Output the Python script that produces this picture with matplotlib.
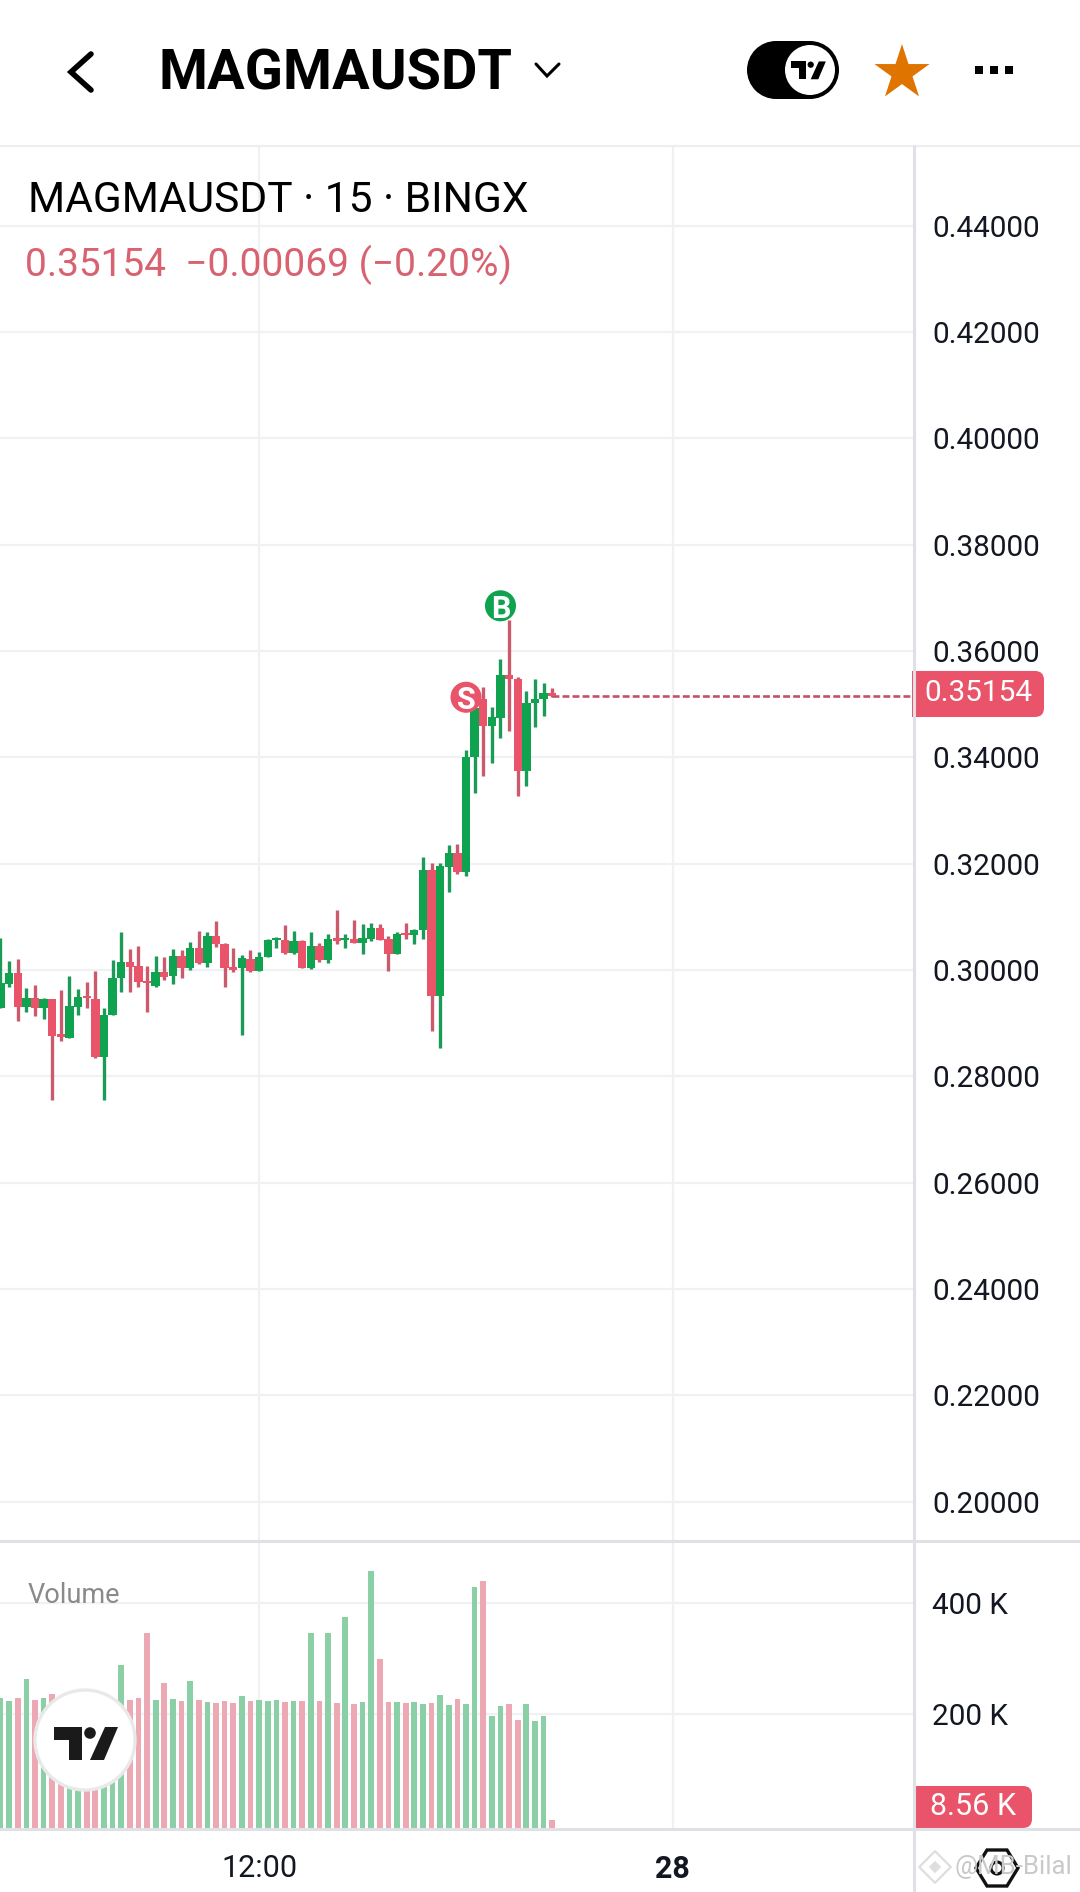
"""MAGMAUSDT 15m candles with volume pane, TradingView mobile layout"""
import numpy as np
import matplotlib
matplotlib.use("Agg")
import matplotlib.pyplot as plt
from matplotlib.patches import Circle, FancyBboxPatch, Polygon, Rectangle

plt.rcParams["font.family"] = ["Roboto", "DejaVu Sans"]

### data ###
opens = [0.29289, 0.29736, 0.29937, 0.29308, 0.29465, 0.29289, 0.29446, 0.28792, 0.28723, 0.29308,
         0.29509, 0.29453, 0.28365, 0.29163, 0.29843, 0.30145, 0.30069, 0.29786, 0.29704, 0.29956,
         0.29880, 0.30258, 0.30031, 0.30409, 0.30126, 0.30635, 0.30484, 0.30050, 0.30031, 0.30214,
         0.29987, 0.30239, 0.30560, 0.30566, 0.30314, 0.30547, 0.30044, 0.30447, 0.30189, 0.30598,
         0.30560, 0.30579, 0.30503, 0.30579, 0.30786, 0.30579, 0.30296, 0.30692, 0.30654, 0.30755,
         0.31887, 0.29503, 0.31943, 0.32208, 0.31849, 0.34000, 0.35091, 0.34596, 0.34746, 0.35542,
         0.35473, 0.33749, 0.35028, 0.35091, 0.35216]
highs = [0.30598, 0.30170, 0.30201, 0.29654, 0.29711, 0.29465, 0.29453, 0.29616, 0.29880, 0.29635,
         0.29767, 0.29975, 0.29277, 0.30182, 0.30711, 0.30390, 0.30447, 0.30069, 0.30258, 0.30239,
         0.30390, 0.30371, 0.30522, 0.30730, 0.30711, 0.30918, 0.30503, 0.30409, 0.30277, 0.30371,
         0.30333, 0.30579, 0.30629, 0.30843, 0.30730, 0.30560, 0.30711, 0.30503, 0.30673, 0.31126,
         0.30673, 0.30937, 0.30862, 0.30881, 0.30862, 0.30635, 0.30711, 0.30881, 0.30774, 0.32132,
         0.32019, 0.32019, 0.32358, 0.32377, 0.34138, 0.34922, 0.35317, 0.34941, 0.35843, 0.36583,
         0.35505, 0.35241, 0.35467, 0.35392, 0.35298]
lows = [0.29289, 0.29673, 0.29044, 0.29214, 0.29138, 0.29082, 0.27559, 0.28667, 0.28723, 0.29157,
        0.29289, 0.28352, 0.27559, 0.29163, 0.29591, 0.29591, 0.29673, 0.29214, 0.29673, 0.29805,
        0.29730, 0.29843, 0.29994, 0.30107, 0.30050, 0.30428, 0.29673, 0.29956, 0.28786, 0.29956,
        0.29987, 0.30239, 0.30421, 0.30296, 0.30296, 0.30044, 0.30013, 0.30157, 0.30126, 0.30484,
        0.30409, 0.30503, 0.30296, 0.30541, 0.30560, 0.29987, 0.30296, 0.30579, 0.30484, 0.30579,
        0.28855, 0.28534, 0.31472, 0.31811, 0.31774, 0.33323, 0.33655, 0.33887, 0.34370, 0.34495,
        0.33279, 0.33467, 0.34577, 0.34784, 0.35129]
closes = [0.29748, 0.29937, 0.29308, 0.29465, 0.29289, 0.29453, 0.28761, 0.28742, 0.29314, 0.29484,
          0.29465, 0.28365, 0.29163, 0.29843, 0.30145, 0.30063, 0.29767, 0.29748, 0.29956, 0.29874,
          0.30258, 0.30031, 0.30409, 0.30126, 0.30635, 0.30484, 0.30031, 0.30000, 0.30220, 0.29981,
          0.30239, 0.30560, 0.30598, 0.30314, 0.30541, 0.30044, 0.30447, 0.30182, 0.30579, 0.30541,
          0.30598, 0.30503, 0.30598, 0.30786, 0.30560, 0.30296, 0.30673, 0.30654, 0.30749, 0.31887,
          0.29503, 0.31962, 0.32208, 0.31849, 0.34000, 0.34922, 0.34596, 0.34752, 0.35542, 0.35473,
          0.33749, 0.35028, 0.35091, 0.35216, 0.35154]
volumes = [229, 223.5, 229, 263, 225, 229, 236, 232.5, 225, 225,
           225, 225, 225, 225, 288.5, 225, 229, 346, 225, 255,
           227, 223.5, 260, 225, 222, 220, 223.5, 220, 232.5, 223.5,
           225, 223.5, 225, 222, 223.5, 223.5, 346, 223.5, 346, 220,
           375, 218, 222, 457, 299, 222, 222, 220, 222, 218,
           220, 234, 216, 227, 218, 429.5, 440, 196, 214, 218,
           189, 218, 187, 196, 8.56]
price_ticks = [0.20, 0.22, 0.24, 0.26, 0.28, 0.30, 0.32, 0.34, 0.36, 0.38, 0.40, 0.42, 0.44]
volume_ticks = [200, 400]
time_ticks = [30, 78]
time_labels = ["12:00", "28"]
sell_bar, sell_price = 54, 0.3513
buy_bar, buy_price = 58, 0.3685
last_price = 0.35154

GREEN = "#0fa34f"
RED = "#e9546a"
GREEN_WICK = "#1b9a58"
RED_WICK = "#cb5a6c"
GRID = "#f0f1f3"
LINE = "#dfe1e6"
TEXT = "#131722"
PX_W, PX_H = 1080, 1892

fig = plt.figure(figsize=(PX_W / 100, PX_H / 100), dpi=100, facecolor="white")

def pane(top, bottom, right=914):
    return fig.add_axes([0, 1 - bottom / PX_H, right / PX_W, (bottom - top) / PX_H])

x = np.arange(len(closes))
xlim = (-0.058, 105.97)

### price pane ###
ax = pane(147, 1541)
ax.set_xlim(xlim)
ax.set_ylim(0.19261, 0.45479)
ax.set_axisbelow(True)
ax.grid(True, color=GRID, lw=1.6)
ax.set_xticks(time_ticks)
ax.set_yticks(price_ticks)
ax.set_yticklabels([f"{p:.5f}" for p in price_ticks])
ax.yaxis.tick_right()
ax.tick_params(axis="y", length=0, pad=13, labelsize=21.4, labelcolor=TEXT)
ax.tick_params(axis="x", length=0, labelbottom=False)
for s in ax.spines.values():
    s.set_visible(False)

up = np.array(closes) >= np.array(opens)
ax.vlines(x, lows, highs, colors=[GREEN_WICK if u else RED_WICK for u in up], lw=2.4, zorder=2)
body_bottom = np.minimum(opens, closes)
body_height = np.abs(np.array(closes) - np.array(opens))
ax.bar(x, body_height, bottom=body_bottom, width=0.97, color=[GREEN if u else RED for u in up], zorder=3)

ax.hlines(last_price, x[-1], xlim[1], colors="#c2526a", lw=1.9, linestyles=(0, (2.6, 1.2)), zorder=2)

ax.scatter([sell_bar], [sell_price], s=500, color=RED, edgecolors="none", zorder=5)
ax.text(sell_bar, sell_price, "S", color="white", fontsize=22, fontweight="bold",
        ha="center", va="center_baseline", zorder=6)
ax.scatter([buy_bar], [buy_price], s=500, color=GREEN, edgecolors="none", zorder=5)
ax.text(buy_bar, buy_price, "B", color="white", fontsize=22, fontweight="bold",
        ha="center", va="center_baseline", zorder=6)

### volume pane ###
vax = pane(1541, 1829)
vax.set_xlim(xlim)
vax.set_ylim(-7.76, 511.8)
vax.set_axisbelow(True)
vax.grid(True, color=GRID, lw=1.6)
vax.set_xticks(time_ticks)
vax.set_xticklabels(time_labels)
vax.get_xticklabels()[1].set_fontweight("bold")
vax.set_yticks(volume_ticks)
vax.set_yticklabels([f"{v} K" for v in volume_ticks])
vax.yaxis.tick_right()
vax.tick_params(axis="y", length=0, pad=13, labelsize=21.4, labelcolor=TEXT)
vax.tick_params(axis="x", length=0, pad=18, labelsize=22, labelcolor=TEXT)
for s in vax.spines.values():
    s.set_visible(False)
vax.bar(x, np.array(volumes) + 7.76, bottom=-7.76, width=0.66,
        color=["#8bcfa6" if u else "#eca8b3" for u in up], zorder=2)
vax.text(0.0306, 0.81, "Volume", transform=vax.transAxes, color="#8a8a8a", fontsize=19.5, va="center")

### phone chrome, in pixels ###
ui = fig.add_axes([0, 0, 1, 1], zorder=10)
ui.set_xlim(0, PX_W)
ui.set_ylim(PX_H, 0)
ui.axis("off")
ui.patch.set_alpha(0)

def tv_logo(cx, cy, k, color):
    # outline points follow the logo shape, k is the width scale
    seven = [(-31, -14), (-3, -14), (-3, 19), (-16, 19), (-16, -1), (-31, -1)]
    slash = [(20, -14), (33, -14), (19, 19), (5, 19)]
    ui.add_patch(Polygon([(cx + a * k, cy + b * k) for a, b in seven], fc=color, ec="none"))
    ui.add_patch(Polygon([(cx + a * k, cy + b * k) for a, b in slash], fc=color, ec="none"))
    ui.add_patch(Circle((cx + 5 * k, cy - 8 * k), 5.8 * k, fc=color, ec="none"))

def axis_tag(left, right, top, bottom, label, fontsize=21.4):
    # rounded on the right only, the left side sits on the axis line
    ui.add_patch(FancyBboxPatch((left, top), right - left, bottom - top,
                                boxstyle="round,pad=0,rounding_size=9", fc=RED, ec="none"))
    ui.add_patch(Rectangle((left, top), 12, bottom - top, fc=RED, ec="none"))
    ui.text((left + right) / 2, (top + bottom) / 2 - 1, label, fontsize=fontsize, color="white",
            va="center", ha="center")

ui.plot([0, 1080], [146, 146], color="#eeeeee", lw=1.6)
ui.plot([0, 914], [1541, 1541], color=LINE, lw=2.2)
ui.plot([0, 1080], [1541, 1541], color=LINE, lw=2.2)
ui.plot([0, 1080], [1829, 1829], color=LINE, lw=2.2)
ui.plot([914, 914], [147, 1892], color=LINE, lw=2.2)

ui.plot([91, 71, 91], [54, 72, 90], color="black", lw=4.0, solid_capstyle="round", solid_joinstyle="miter")
ui.text(159, 75, "MAGMAUSDT", fontsize=40.3, fontweight="bold", color="black", va="center", ha="left")
ui.plot([536, 547, 559], [64, 76, 64], color="black", lw=2.2, solid_capstyle="round", solid_joinstyle="miter")

ui.add_patch(Rectangle((776, 41), 34, 58, fc="black", ec="none"))
ui.add_patch(Circle((776, 70), 29, fc="black", ec="none"))
ui.add_patch(Circle((810, 70), 29, fc="black", ec="none"))
ui.add_patch(Circle((810, 70), 25, fc="white", ec="none"))
tv_logo(808, 69, 0.54, "black")
ui.scatter([902], [73], marker="*", s=1740, color="#e07400", edgecolors="none")
ui.scatter([979, 994, 1009], [70, 70, 70], marker="s", s=26, color="black", edgecolors="none")

ui.text(28, 200, "MAGMAUSDT · 15 · BINGX", fontsize=30.6, color="black", va="center", ha="left")
ui.text(25, 265, "0.35154  −0.00069 (−0.20%)", fontsize=28, color="#d8626f", va="center", ha="left")

ui.add_patch(Circle((85, 1740), 50, fc="white", ec="#e9e9e9", lw=2.4))
tv_logo(85, 1741, 1.0, "#1a1a1a")

# price tag follows the price scale
tag_y = PX_H - ax.transData.transform((0, last_price))[1]
axis_tag(912, 1044, tag_y - 25, tag_y + 21, f"{last_price:.5f}")
axis_tag(915, 1032, 1786, 1828, f"{volumes[-1]:.2f} K", fontsize=22)

ui.scatter([935], [1867], marker="D", s=260, facecolors="none", edgecolors="#dedede", linewidths=1.6)
ui.scatter([935], [1867], marker="D", s=40, color="#dedede", edgecolors="none")
ui.text(955, 1867, "@MB-Bilal", fontsize=18.5, color="#c9c9c9", va="center", ha="left")
ui.add_patch(Polygon([(976, 1868), (987, 1850), (1007, 1850), (1018, 1868), (1007, 1886), (987, 1886)],
                     fc="none", ec="#111111", lw=2.4))
ui.add_patch(Circle((997, 1868), 6, fc="none", ec="#111111", lw=2.2))

fig.savefig("out.png", dpi=100, facecolor="white")
